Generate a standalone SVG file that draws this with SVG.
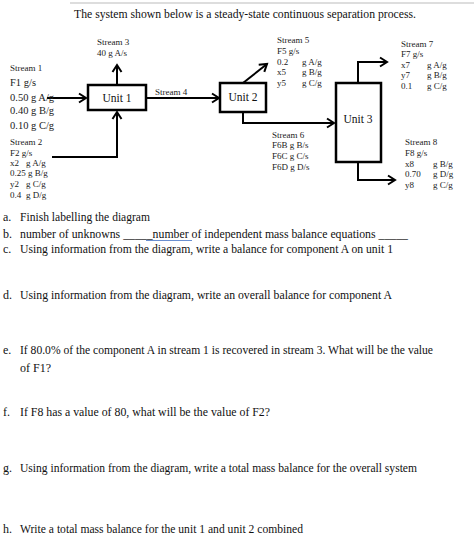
<svg xmlns="http://www.w3.org/2000/svg" width="474" height="548" viewBox="0 0 474 548">
<style>
.s{font-family:"Liberation Serif","DejaVu Serif",serif;font-size:9px;fill:#222}
.m{font-family:"Liberation Serif","DejaVu Serif",serif;font-size:10.5px;fill:#222}
.u{font-family:"Liberation Serif","DejaVu Serif",serif;font-size:11.5px;fill:#111}
.q{font-family:"Liberation Serif","DejaVu Serif",serif;font-size:12px;fill:#111}
.box{fill:#fff;stroke:#000;stroke-width:2.5}
.c{fill:none;stroke:#000;stroke-width:2}
</style>
<defs>
<marker id="ah" markerUnits="userSpaceOnUse" markerWidth="12" markerHeight="12" refX="8" refY="6" orient="auto">
<polyline points="1,1.5 8,6 1,10.5" fill="none" stroke="#000" stroke-width="2"/>
</marker>
</defs>
<rect width="474" height="548" fill="#fff"/>
<line x1="70" y1="3" x2="474" y2="3" stroke="#ddd" stroke-width="2"/>
<text class="q" x="74" y="18" textLength="342" lengthAdjust="spacingAndGlyphs">The system shown below is a steady-state continuous separation process.</text>

<g id="connectors">
<line class="c" x1="47" y1="98" x2="86" y2="98" marker-end="url(#ah)"/>
<line class="c" x1="117" y1="85" x2="117" y2="65" marker-end="url(#ah)"/>
<polyline class="c" points="52,157 117,157 117,112" marker-end="url(#ah)"/>
<line class="c" x1="146" y1="98" x2="219" y2="98" marker-end="url(#ah)"/>
<line class="c" x1="243" y1="83" x2="267" y2="64" marker-end="url(#ah)"/>
<polyline class="c" points="243,112 243,123 334,123" marker-end="url(#ah)"/>
<polyline class="c" points="358,83 358,62 387,62" marker-end="url(#ah)"/>
<polyline class="c" points="358,162 358,180 395,180" marker-end="url(#ah)"/>
</g>

<g id="unit1"><rect class="box" x="88" y="85" width="58" height="25"/><text class="u" x="117" y="101.5" text-anchor="middle">Unit 1</text></g>
<g id="unit2"><rect class="box" x="220" y="83" width="46" height="29"/><text class="u" x="243" y="101" text-anchor="middle">Unit 2</text></g>
<g id="unit3"><rect class="box" x="336" y="83" width="45" height="79"/><text class="u" x="358" y="123" text-anchor="middle">Unit 3</text></g>

<g id="stream1">
<text class="s" x="10" y="71">Stream 1</text>
<text class="m" x="10" y="86">F1 g/s</text>
<text class="m" x="10" y="101">0.50 g A/g</text>
<text class="m" x="10" y="114">0.40 g B/g</text>
<text class="m" x="10" y="129">0.10 g C/g</text>
</g>
<g id="stream2">
<text class="s" x="10" y="145">Stream 2</text>
<text class="s" x="10" y="156">F2 g/s</text>
<text class="s" x="10" y="166">x2</text><text class="s" x="26" y="166">g A/g</text>
<text class="s" x="10" y="176">0.25 g B/g</text>
<text class="s" x="10" y="187">y2</text><text class="s" x="26" y="187">g C/g</text>
<text class="s" x="10" y="198">0.4</text><text class="s" x="26" y="198">g D/g</text>
</g>
<g id="stream3">
<text class="s" x="97" y="45">Stream 3</text>
<text class="s" x="97" y="56">40 g A/s</text>
</g>
<g id="stream4"><text class="s" x="155" y="95">Stream 4</text></g>
<g id="stream5">
<text class="s" x="277" y="43">Stream 5</text>
<text class="s" x="277" y="54">F5 g/s</text>
<text class="s" x="277" y="65">0.2</text><text class="s" x="302" y="65">g A/g</text>
<text class="s" x="277" y="75">x5</text><text class="s" x="302" y="75">g B/g</text>
<text class="s" x="277" y="86">y5</text><text class="s" x="302" y="86">g C/g</text>
</g>
<g id="stream7">
<text class="s" x="401" y="47">Stream 7</text>
<text class="s" x="401" y="57">F7 g/s</text>
<text class="s" x="401" y="68">x7</text><text class="s" x="427" y="68">g A/g</text>
<text class="s" x="401" y="78">y7</text><text class="s" x="427" y="78">g B/g</text>
<text class="s" x="401" y="89">0.1</text><text class="s" x="427" y="89">g C/g</text>
</g>
<g id="stream6">
<text class="s" x="272" y="138">Stream 6</text>
<text class="s" x="272" y="148">F6B g B/s</text>
<text class="s" x="272" y="159">F6C g C/s</text>
<text class="s" x="272" y="170">F6D g D/s</text>
</g>
<g id="stream8">
<text class="s" x="405" y="145">Stream 8</text>
<text class="s" x="405" y="156">F8 g/s</text>
<text class="s" x="405" y="167">x8</text><text class="s" x="433" y="167">g B/g</text>
<text class="s" x="405" y="177">0.70</text><text class="s" x="433" y="177">g D/g</text>
<text class="s" x="405" y="188">y8</text><text class="s" x="433" y="188">g C/g</text>
</g>

<g id="questions">
<text class="q" x="3" y="221">a.</text><text class="q" x="20" y="221" textLength="130" lengthAdjust="spacingAndGlyphs">Finish labelling the diagram</text>
<text class="q" x="3" y="238">b.</text><text class="q" x="20" y="238" textLength="388" lengthAdjust="spacingAndGlyphs">number of unknowns _____number of independent mass balance equations _____</text>
<line x1="146" y1="240.5" x2="192" y2="240.5" stroke="#6a8fd0" stroke-width="1"/>
<text class="q" x="3" y="253">c.</text><text class="q" x="20" y="253" textLength="373" lengthAdjust="spacingAndGlyphs">Using information from the diagram, write a balance for component A on unit 1</text>
<text class="q" x="3" y="299">d.</text><text class="q" x="20" y="299" textLength="372" lengthAdjust="spacingAndGlyphs">Using information from the diagram, write an overall balance for component A</text>
<text class="q" x="3" y="354">e.</text><text class="q" x="20" y="354" textLength="413" lengthAdjust="spacingAndGlyphs">If 80.0% of the component A in stream 1 is recovered in stream 3. What will be the value</text>
<text class="q" x="20" y="372">of F1?</text>
<text class="q" x="3" y="416">f.</text><text class="q" x="20" y="416" textLength="250" lengthAdjust="spacingAndGlyphs">If F8 has a value of 80, what will be the value of F2?</text>
<text class="q" x="3" y="472">g.</text><text class="q" x="20" y="472" textLength="397" lengthAdjust="spacingAndGlyphs">Using information from the diagram, write a total mass balance for the overall system</text>
<text class="q" x="3" y="533">h.</text><text class="q" x="20" y="533" textLength="283" lengthAdjust="spacingAndGlyphs">Write a total mass balance for the unit 1 and unit 2 combined</text>
</g>
</svg>
